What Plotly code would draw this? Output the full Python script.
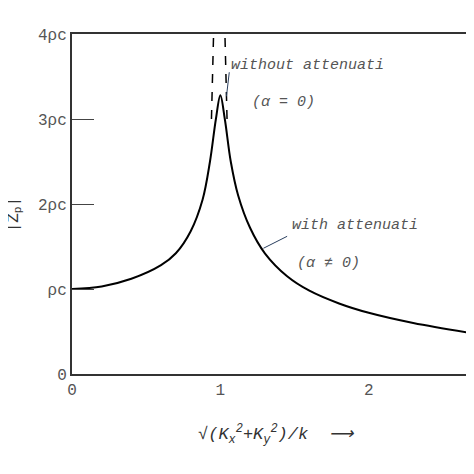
import plotly.graph_objects as go

# impedance with attenuation (in units of rho*c)
kr_att = [0, 0.2, 0.4, 0.6, 0.7, 0.8, 0.88, 0.93, 0.97, 1.0, 1.03, 1.07, 1.12, 1.2, 1.3, 1.45, 1.6, 1.8, 2.0, 2.3, 2.7]
z_att = [1.0, 1.03, 1.12, 1.28, 1.42, 1.68, 2.05, 2.5, 3.0, 3.28, 3.0, 2.5, 2.1, 1.72, 1.42, 1.15, 0.98, 0.83, 0.72, 0.6, 0.48]

# without attenuation, goes to infinity near 1
kr_left = [0.94, 0.945, 0.95, 0.955]
z_left = [3.0, 3.35, 3.7, 4.05]
kr_right = [1.045, 1.04, 1.035, 1.03]
z_right = [3.0, 3.35, 3.7, 4.05]

ytick_vals = [0, 1, 2, 3, 4]
ytick_text = ["0", "ρc", "2ρc", "3ρc", "4ρc"]
xtick_vals = [0, 1, 2]
xtick_text = ["0", "1", "2"]

font = dict(family="Liberation Mono", size=15, color="#555")

fig = go.Figure()
fig.add_trace(go.Scatter(x=kr_att, y=z_att, mode="lines", line=dict(color="black", width=2, shape="spline")))
for xs, ys in [(kr_left, z_left), (kr_right, z_right)]:
    fig.add_trace(go.Scatter(x=xs, y=ys, mode="lines", line=dict(color="black", width=1.5, dash="dash")))

fig.update_layout(
    width=474, height=474, showlegend=False,
    plot_bgcolor="white", paper_bgcolor="white",
    margin=dict(l=64, r=0, t=26, b=108),
    font=font,
    xaxis=dict(range=[0, 2.75], tickvals=xtick_vals, ticktext=xtick_text, ticks="", ticklen=12,
               showgrid=False, zeroline=False, showline=True, linecolor="#333", linewidth=2, mirror=True,
               tickfont=dict(family="Liberation Mono", size=16, color="#555")),
    yaxis=dict(range=[0, 4], tickvals=ytick_vals, ticktext=ytick_text, ticks="inside", ticklen=22,
               showgrid=False, zeroline=False, showline=True, linecolor="#333", linewidth=2, mirror=True,
               tickfont=dict(family="Liberation Mono", size=16, color="#555")),
    annotations=[
        dict(x=1.06, y=3.55, xref="x", yref="y", ax=1.04, ay=3.25, axref="x", ayref="y",
             text="", showarrow=True, arrowhead=0, arrowwidth=1),
        dict(x=1.06, y=3.5, xref="x", yref="y", xanchor="left", yanchor="bottom", showarrow=False,
             text="<i>without attenuati</i>", font=font),
        dict(x=1.2, y=3.2, xref="x", yref="y", xanchor="left", showarrow=False, text="<i>(α = 0)</i>", font=font),
        dict(x=1.45, y=1.62, xref="x", yref="y", ax=1.28, ay=1.47, axref="x", ayref="y",
             text="", showarrow=True, arrowhead=0, arrowwidth=1),
        dict(x=1.47, y=1.62, xref="x", yref="y", xanchor="left", yanchor="bottom", showarrow=False,
             text="<i>with attenuati</i>", font=font),
        dict(x=1.5, y=1.3, xref="x", yref="y", xanchor="left", showarrow=False, text="<i>(α ≠ 0)</i>", font=font),
        dict(x=0.5, y=-0.22, xref="paper", yref="paper", showarrow=False,
             text="<i>√(K<sub>x</sub><sup>2</sup>+K<sub>y</sub><sup>2</sup>)/k  ⟶</i>",
             font=dict(family="Liberation Mono", size=17, color="#333")),
        dict(x=-0.17, y=0.47, xref="paper", yref="paper", showarrow=False, textangle=-90,
             text="|Z<sub>p</sub>|", font=dict(family="Liberation Mono", size=16, color="#333")),
    ],
)

fig.write_html("out.html")
